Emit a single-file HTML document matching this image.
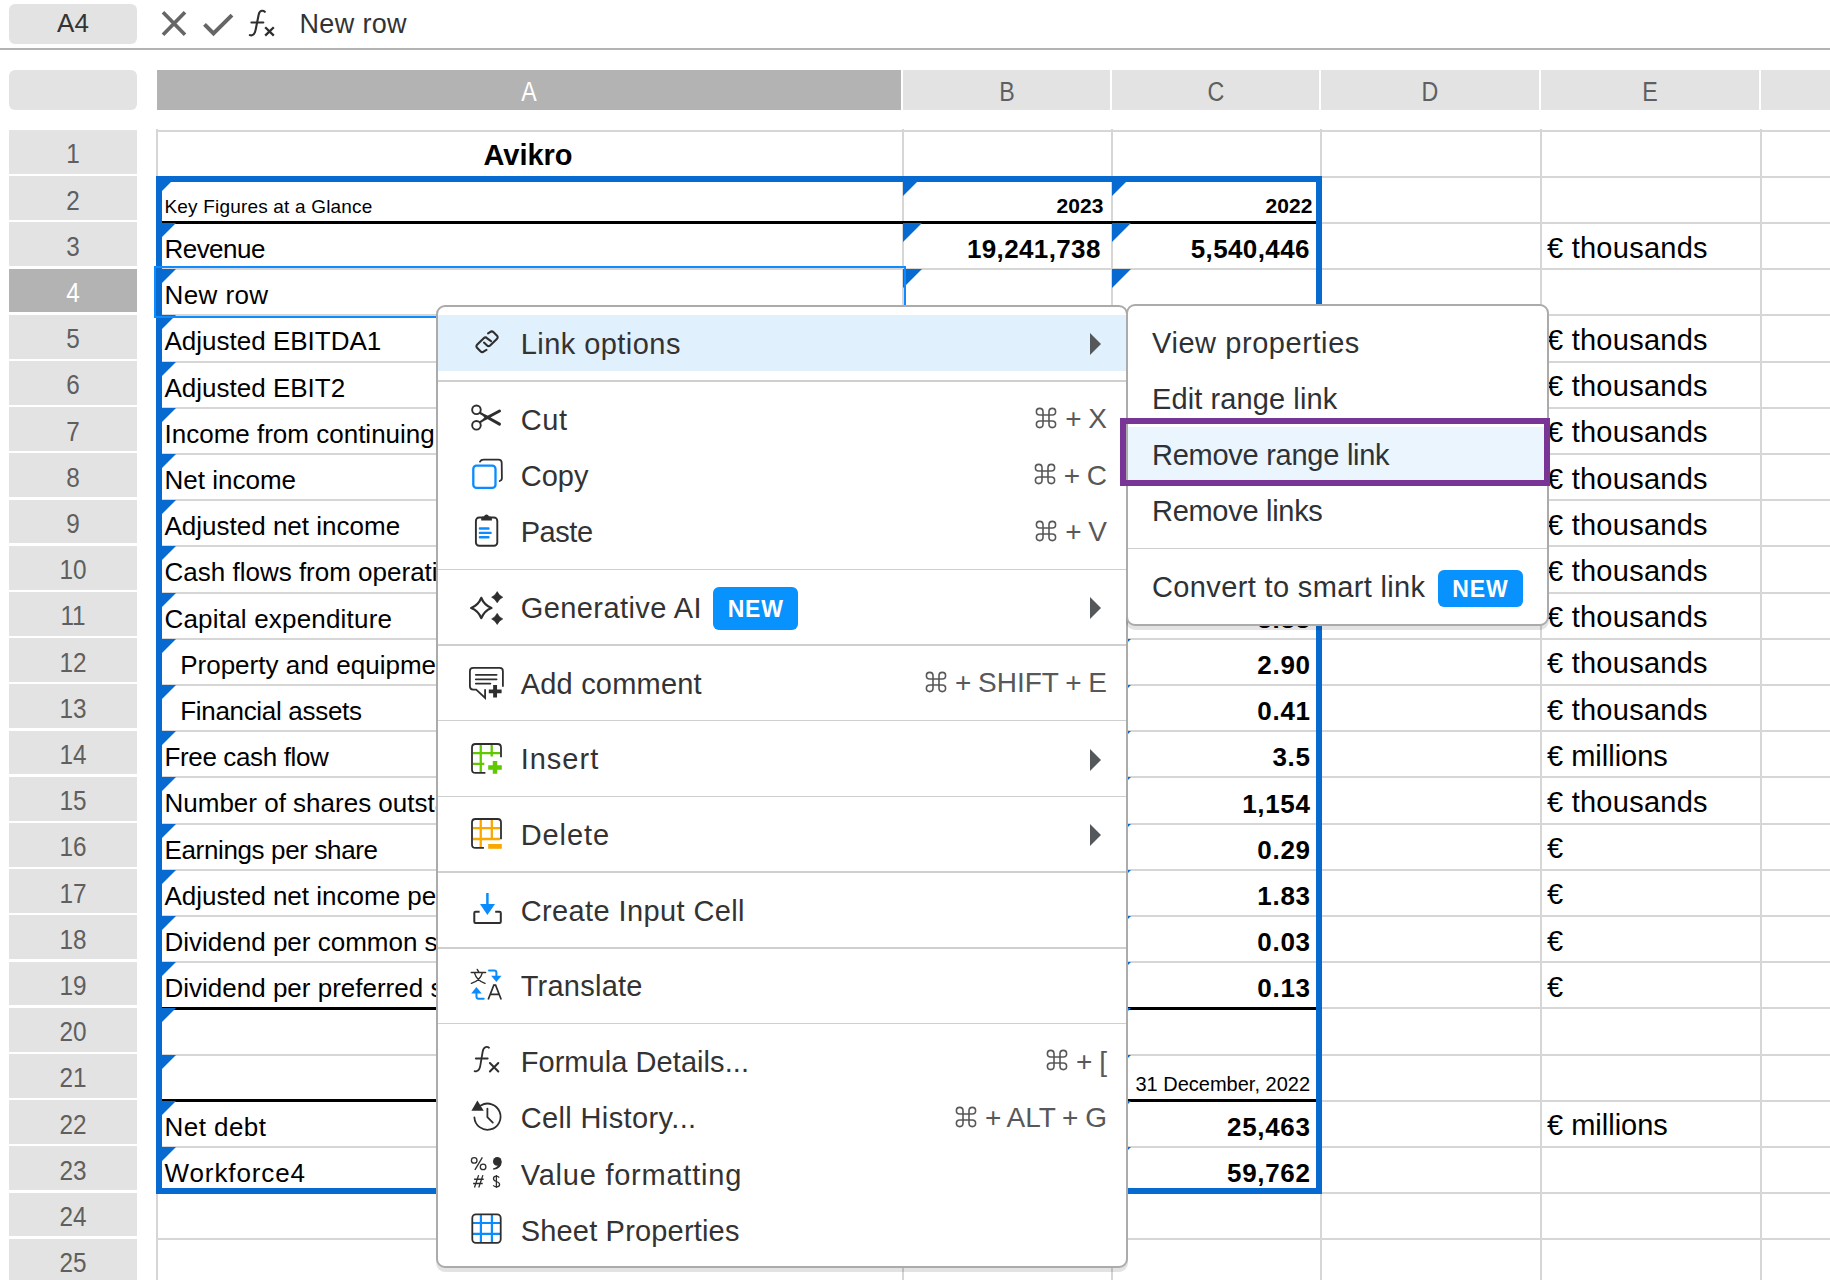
<!DOCTYPE html><html><head><meta charset="utf-8"><style>
html,body{margin:0;padding:0;}
body{width:1830px;height:1280px;overflow:hidden;position:relative;background:#fff;font-family:"Liberation Sans",sans-serif;color:#000;}
.t{position:absolute;line-height:1;white-space:nowrap;}
.b{position:absolute;box-sizing:border-box;}
svg{position:absolute;overflow:visible;}

</style></head><body>
<div class="b" style="left:9.00px;top:4.00px;width:128.00px;height:40.00px;background:#e3e3e3;border-radius:6px;"></div>
<div class="t" style="left:-227.00px;width:600px;top:9.99px;font-size:26px;text-align:center;color:#333;">A4</div>
<svg style="left:160px;top:10px" width="28" height="28" viewBox="0 0 28 28"><path d="M3,2.2 L25,24.8 M25,2.2 L3,24.8" stroke="#666" stroke-width="3.7" fill="none"/></svg>
<svg style="left:200px;top:10px" width="36" height="28" viewBox="0 0 36 28"><path d="M4.5,14.3 L13.5,23.5 L32,5.2" stroke="#666" stroke-width="4" fill="none"/></svg>
<svg style="left:244px;top:6px" width="40" height="36" viewBox="0 0 40 36"><path d="M20.8,5.8 Q19.6,4.6 17.8,4.8 Q15.4,5.2 14.7,8.5 L11.7,23.5 Q10.8,28.6 8,29.3 Q6.8,29.6 5.9,29.1" stroke="#2e2e2e" stroke-width="2.1" fill="none" stroke-linecap="round"/><path d="M7.4,16.45 L19.3,16.45" stroke="#2e2e2e" stroke-width="2.1" stroke-linecap="round"/><path d="M21.2,21.2 L29.8,29.6 M29.8,21.2 L21.2,29.6" stroke="#2e2e2e" stroke-width="2.3"/></svg>
<div class="t" style="left:299.50px;top:11.14px;font-size:27px;color:#333;letter-spacing:0.35px;">New row</div>
<div class="b" style="left:0.00px;top:48.00px;width:1830.00px;height:2.00px;background:#b3b3b3;"></div>
<div class="b" style="left:9.00px;top:70.00px;width:128.00px;height:40.00px;background:#e3e3e3;border-radius:6px;"></div>
<div class="b" style="left:157.00px;top:70.00px;width:744.00px;height:40.00px;background:#b3b3b3;"></div>
<div class="t" style="left:229.00px;width:600px;top:78.64px;font-size:27px;text-align:center;color:#fff;transform:scaleX(0.86);">A</div>
<div class="b" style="left:903.00px;top:70.00px;width:207.00px;height:40.00px;background:#e3e3e3;"></div>
<div class="t" style="left:706.50px;width:600px;top:78.64px;font-size:27px;text-align:center;color:#5f5f5f;transform:scaleX(0.86);">B</div>
<div class="b" style="left:1112.00px;top:70.00px;width:207.00px;height:40.00px;background:#e3e3e3;"></div>
<div class="t" style="left:915.50px;width:600px;top:78.64px;font-size:27px;text-align:center;color:#5f5f5f;transform:scaleX(0.86);">C</div>
<div class="b" style="left:1321.00px;top:70.00px;width:218.00px;height:40.00px;background:#e3e3e3;"></div>
<div class="t" style="left:1130.00px;width:600px;top:78.64px;font-size:27px;text-align:center;color:#5f5f5f;transform:scaleX(0.86);">D</div>
<div class="b" style="left:1541.00px;top:70.00px;width:218.00px;height:40.00px;background:#e3e3e3;"></div>
<div class="t" style="left:1350.00px;width:600px;top:78.64px;font-size:27px;text-align:center;color:#5f5f5f;transform:scaleX(0.86);">E</div>
<div class="b" style="left:1761.00px;top:70.00px;width:69.00px;height:40.00px;background:#e3e3e3;"></div>
<div class="b" style="left:9.00px;top:130.00px;width:128.00px;height:43.80px;background:#e3e3e3;"></div>
<div class="t" style="left:-227.00px;width:600px;top:141.34px;font-size:27px;text-align:center;color:#5f5f5f;transform:scaleX(0.9);">1</div>
<div class="b" style="left:9.00px;top:176.20px;width:128.00px;height:43.80px;background:#e3e3e3;"></div>
<div class="t" style="left:-227.00px;width:600px;top:187.54px;font-size:27px;text-align:center;color:#5f5f5f;transform:scaleX(0.9);">2</div>
<div class="b" style="left:9.00px;top:222.40px;width:128.00px;height:43.80px;background:#e3e3e3;"></div>
<div class="t" style="left:-227.00px;width:600px;top:233.74px;font-size:27px;text-align:center;color:#5f5f5f;transform:scaleX(0.9);">3</div>
<div class="b" style="left:9.00px;top:268.60px;width:128.00px;height:43.80px;background:#b3b3b3;"></div>
<div class="t" style="left:-227.00px;width:600px;top:279.94px;font-size:27px;text-align:center;color:#fff;transform:scaleX(0.9);">4</div>
<div class="b" style="left:9.00px;top:314.80px;width:128.00px;height:43.80px;background:#e3e3e3;"></div>
<div class="t" style="left:-227.00px;width:600px;top:326.14px;font-size:27px;text-align:center;color:#5f5f5f;transform:scaleX(0.9);">5</div>
<div class="b" style="left:9.00px;top:361.00px;width:128.00px;height:43.80px;background:#e3e3e3;"></div>
<div class="t" style="left:-227.00px;width:600px;top:372.34px;font-size:27px;text-align:center;color:#5f5f5f;transform:scaleX(0.9);">6</div>
<div class="b" style="left:9.00px;top:407.20px;width:128.00px;height:43.80px;background:#e3e3e3;"></div>
<div class="t" style="left:-227.00px;width:600px;top:418.54px;font-size:27px;text-align:center;color:#5f5f5f;transform:scaleX(0.9);">7</div>
<div class="b" style="left:9.00px;top:453.40px;width:128.00px;height:43.80px;background:#e3e3e3;"></div>
<div class="t" style="left:-227.00px;width:600px;top:464.74px;font-size:27px;text-align:center;color:#5f5f5f;transform:scaleX(0.9);">8</div>
<div class="b" style="left:9.00px;top:499.60px;width:128.00px;height:43.80px;background:#e3e3e3;"></div>
<div class="t" style="left:-227.00px;width:600px;top:510.94px;font-size:27px;text-align:center;color:#5f5f5f;transform:scaleX(0.9);">9</div>
<div class="b" style="left:9.00px;top:545.80px;width:128.00px;height:43.80px;background:#e3e3e3;"></div>
<div class="t" style="left:-227.00px;width:600px;top:557.14px;font-size:27px;text-align:center;color:#5f5f5f;transform:scaleX(0.9);">10</div>
<div class="b" style="left:9.00px;top:592.00px;width:128.00px;height:43.80px;background:#e3e3e3;"></div>
<div class="t" style="left:-227.00px;width:600px;top:603.34px;font-size:27px;text-align:center;color:#5f5f5f;transform:scaleX(0.9);">11</div>
<div class="b" style="left:9.00px;top:638.20px;width:128.00px;height:43.80px;background:#e3e3e3;"></div>
<div class="t" style="left:-227.00px;width:600px;top:649.54px;font-size:27px;text-align:center;color:#5f5f5f;transform:scaleX(0.9);">12</div>
<div class="b" style="left:9.00px;top:684.40px;width:128.00px;height:43.80px;background:#e3e3e3;"></div>
<div class="t" style="left:-227.00px;width:600px;top:695.74px;font-size:27px;text-align:center;color:#5f5f5f;transform:scaleX(0.9);">13</div>
<div class="b" style="left:9.00px;top:730.60px;width:128.00px;height:43.80px;background:#e3e3e3;"></div>
<div class="t" style="left:-227.00px;width:600px;top:741.94px;font-size:27px;text-align:center;color:#5f5f5f;transform:scaleX(0.9);">14</div>
<div class="b" style="left:9.00px;top:776.80px;width:128.00px;height:43.80px;background:#e3e3e3;"></div>
<div class="t" style="left:-227.00px;width:600px;top:788.14px;font-size:27px;text-align:center;color:#5f5f5f;transform:scaleX(0.9);">15</div>
<div class="b" style="left:9.00px;top:823.00px;width:128.00px;height:43.80px;background:#e3e3e3;"></div>
<div class="t" style="left:-227.00px;width:600px;top:834.34px;font-size:27px;text-align:center;color:#5f5f5f;transform:scaleX(0.9);">16</div>
<div class="b" style="left:9.00px;top:869.20px;width:128.00px;height:43.80px;background:#e3e3e3;"></div>
<div class="t" style="left:-227.00px;width:600px;top:880.54px;font-size:27px;text-align:center;color:#5f5f5f;transform:scaleX(0.9);">17</div>
<div class="b" style="left:9.00px;top:915.40px;width:128.00px;height:43.80px;background:#e3e3e3;"></div>
<div class="t" style="left:-227.00px;width:600px;top:926.74px;font-size:27px;text-align:center;color:#5f5f5f;transform:scaleX(0.9);">18</div>
<div class="b" style="left:9.00px;top:961.60px;width:128.00px;height:43.80px;background:#e3e3e3;"></div>
<div class="t" style="left:-227.00px;width:600px;top:972.94px;font-size:27px;text-align:center;color:#5f5f5f;transform:scaleX(0.9);">19</div>
<div class="b" style="left:9.00px;top:1007.80px;width:128.00px;height:43.80px;background:#e3e3e3;"></div>
<div class="t" style="left:-227.00px;width:600px;top:1019.14px;font-size:27px;text-align:center;color:#5f5f5f;transform:scaleX(0.9);">20</div>
<div class="b" style="left:9.00px;top:1054.00px;width:128.00px;height:43.80px;background:#e3e3e3;"></div>
<div class="t" style="left:-227.00px;width:600px;top:1065.34px;font-size:27px;text-align:center;color:#5f5f5f;transform:scaleX(0.9);">21</div>
<div class="b" style="left:9.00px;top:1100.20px;width:128.00px;height:43.80px;background:#e3e3e3;"></div>
<div class="t" style="left:-227.00px;width:600px;top:1111.54px;font-size:27px;text-align:center;color:#5f5f5f;transform:scaleX(0.9);">22</div>
<div class="b" style="left:9.00px;top:1146.40px;width:128.00px;height:43.80px;background:#e3e3e3;"></div>
<div class="t" style="left:-227.00px;width:600px;top:1157.74px;font-size:27px;text-align:center;color:#5f5f5f;transform:scaleX(0.9);">23</div>
<div class="b" style="left:9.00px;top:1192.60px;width:128.00px;height:43.80px;background:#e3e3e3;"></div>
<div class="t" style="left:-227.00px;width:600px;top:1203.94px;font-size:27px;text-align:center;color:#5f5f5f;transform:scaleX(0.9);">24</div>
<div class="b" style="left:9.00px;top:1238.80px;width:128.00px;height:43.80px;background:#e3e3e3;"></div>
<div class="t" style="left:-227.00px;width:600px;top:1250.14px;font-size:27px;text-align:center;color:#5f5f5f;transform:scaleX(0.9);">25</div>
<div class="b" style="left:9.00px;top:1285.00px;width:128.00px;height:43.80px;background:#e3e3e3;"></div>
<div class="t" style="left:-227.00px;width:600px;top:1296.34px;font-size:27px;text-align:center;color:#5f5f5f;transform:scaleX(0.9);">26</div>
<div class="b" style="left:156.00px;top:129.50px;width:1674.00px;height:2.00px;background:#d6d6d6;"></div>
<div class="b" style="left:156.00px;top:175.70px;width:1674.00px;height:2.00px;background:#d6d6d6;"></div>
<div class="b" style="left:156.00px;top:221.90px;width:1674.00px;height:2.00px;background:#d6d6d6;"></div>
<div class="b" style="left:156.00px;top:268.10px;width:1674.00px;height:2.00px;background:#d6d6d6;"></div>
<div class="b" style="left:156.00px;top:314.30px;width:1674.00px;height:2.00px;background:#d6d6d6;"></div>
<div class="b" style="left:156.00px;top:360.50px;width:1674.00px;height:2.00px;background:#d6d6d6;"></div>
<div class="b" style="left:156.00px;top:406.70px;width:1674.00px;height:2.00px;background:#d6d6d6;"></div>
<div class="b" style="left:156.00px;top:452.90px;width:1674.00px;height:2.00px;background:#d6d6d6;"></div>
<div class="b" style="left:156.00px;top:499.10px;width:1674.00px;height:2.00px;background:#d6d6d6;"></div>
<div class="b" style="left:156.00px;top:545.30px;width:1674.00px;height:2.00px;background:#d6d6d6;"></div>
<div class="b" style="left:156.00px;top:591.50px;width:1674.00px;height:2.00px;background:#d6d6d6;"></div>
<div class="b" style="left:156.00px;top:637.70px;width:1674.00px;height:2.00px;background:#d6d6d6;"></div>
<div class="b" style="left:156.00px;top:683.90px;width:1674.00px;height:2.00px;background:#d6d6d6;"></div>
<div class="b" style="left:156.00px;top:730.10px;width:1674.00px;height:2.00px;background:#d6d6d6;"></div>
<div class="b" style="left:156.00px;top:776.30px;width:1674.00px;height:2.00px;background:#d6d6d6;"></div>
<div class="b" style="left:156.00px;top:822.50px;width:1674.00px;height:2.00px;background:#d6d6d6;"></div>
<div class="b" style="left:156.00px;top:868.70px;width:1674.00px;height:2.00px;background:#d6d6d6;"></div>
<div class="b" style="left:156.00px;top:914.90px;width:1674.00px;height:2.00px;background:#d6d6d6;"></div>
<div class="b" style="left:156.00px;top:961.10px;width:1674.00px;height:2.00px;background:#d6d6d6;"></div>
<div class="b" style="left:156.00px;top:1007.30px;width:1674.00px;height:2.00px;background:#d6d6d6;"></div>
<div class="b" style="left:156.00px;top:1053.50px;width:1674.00px;height:2.00px;background:#d6d6d6;"></div>
<div class="b" style="left:156.00px;top:1099.70px;width:1674.00px;height:2.00px;background:#d6d6d6;"></div>
<div class="b" style="left:156.00px;top:1145.90px;width:1674.00px;height:2.00px;background:#d6d6d6;"></div>
<div class="b" style="left:156.00px;top:1192.10px;width:1674.00px;height:2.00px;background:#d6d6d6;"></div>
<div class="b" style="left:156.00px;top:1238.30px;width:1674.00px;height:2.00px;background:#d6d6d6;"></div>
<div class="b" style="left:156.00px;top:1284.50px;width:1674.00px;height:2.00px;background:#d6d6d6;"></div>
<div class="b" style="left:156.00px;top:129.00px;width:2.00px;height:1151.00px;background:#d6d6d6;"></div>
<div class="b" style="left:902.00px;top:129.00px;width:2.00px;height:1151.00px;background:#d6d6d6;"></div>
<div class="b" style="left:1111.00px;top:129.00px;width:2.00px;height:1151.00px;background:#d6d6d6;"></div>
<div class="b" style="left:1320.00px;top:129.00px;width:2.00px;height:1151.00px;background:#d6d6d6;"></div>
<div class="b" style="left:1540.00px;top:129.00px;width:2.00px;height:1151.00px;background:#d6d6d6;"></div>
<div class="b" style="left:1760.00px;top:129.00px;width:2.00px;height:1151.00px;background:#d6d6d6;"></div>
<div class="b" style="left:162.00px;top:221.10px;width:1154.00px;height:3.00px;background:#000;"></div>
<div class="b" style="left:162.00px;top:1006.50px;width:1154.00px;height:3.00px;background:#000;"></div>
<div class="b" style="left:162.00px;top:1098.90px;width:1154.00px;height:3.00px;background:#000;"></div>
<svg style="left:157.00px;top:176.80px" width="19" height="19" viewBox="0 0 19 19"><path d="M0,0 L19,0 L0,19 Z" fill="#066ad0"/></svg>
<svg style="left:157.00px;top:223.00px" width="19" height="19" viewBox="0 0 19 19"><path d="M0,0 L19,0 L0,19 Z" fill="#066ad0"/></svg>
<svg style="left:157.00px;top:269.20px" width="19" height="19" viewBox="0 0 19 19"><path d="M0,0 L19,0 L0,19 Z" fill="#066ad0"/></svg>
<svg style="left:157.00px;top:315.40px" width="19" height="19" viewBox="0 0 19 19"><path d="M0,0 L19,0 L0,19 Z" fill="#066ad0"/></svg>
<svg style="left:157.00px;top:361.60px" width="19" height="19" viewBox="0 0 19 19"><path d="M0,0 L19,0 L0,19 Z" fill="#066ad0"/></svg>
<svg style="left:157.00px;top:407.80px" width="19" height="19" viewBox="0 0 19 19"><path d="M0,0 L19,0 L0,19 Z" fill="#066ad0"/></svg>
<svg style="left:157.00px;top:454.00px" width="19" height="19" viewBox="0 0 19 19"><path d="M0,0 L19,0 L0,19 Z" fill="#066ad0"/></svg>
<svg style="left:157.00px;top:500.20px" width="19" height="19" viewBox="0 0 19 19"><path d="M0,0 L19,0 L0,19 Z" fill="#066ad0"/></svg>
<svg style="left:157.00px;top:546.40px" width="19" height="19" viewBox="0 0 19 19"><path d="M0,0 L19,0 L0,19 Z" fill="#066ad0"/></svg>
<svg style="left:157.00px;top:592.60px" width="19" height="19" viewBox="0 0 19 19"><path d="M0,0 L19,0 L0,19 Z" fill="#066ad0"/></svg>
<svg style="left:157.00px;top:638.80px" width="19" height="19" viewBox="0 0 19 19"><path d="M0,0 L19,0 L0,19 Z" fill="#066ad0"/></svg>
<svg style="left:157.00px;top:685.00px" width="19" height="19" viewBox="0 0 19 19"><path d="M0,0 L19,0 L0,19 Z" fill="#066ad0"/></svg>
<svg style="left:157.00px;top:731.20px" width="19" height="19" viewBox="0 0 19 19"><path d="M0,0 L19,0 L0,19 Z" fill="#066ad0"/></svg>
<svg style="left:157.00px;top:777.40px" width="19" height="19" viewBox="0 0 19 19"><path d="M0,0 L19,0 L0,19 Z" fill="#066ad0"/></svg>
<svg style="left:157.00px;top:823.60px" width="19" height="19" viewBox="0 0 19 19"><path d="M0,0 L19,0 L0,19 Z" fill="#066ad0"/></svg>
<svg style="left:157.00px;top:869.80px" width="19" height="19" viewBox="0 0 19 19"><path d="M0,0 L19,0 L0,19 Z" fill="#066ad0"/></svg>
<svg style="left:157.00px;top:916.00px" width="19" height="19" viewBox="0 0 19 19"><path d="M0,0 L19,0 L0,19 Z" fill="#066ad0"/></svg>
<svg style="left:157.00px;top:962.20px" width="19" height="19" viewBox="0 0 19 19"><path d="M0,0 L19,0 L0,19 Z" fill="#066ad0"/></svg>
<svg style="left:157.00px;top:1008.40px" width="19" height="19" viewBox="0 0 19 19"><path d="M0,0 L19,0 L0,19 Z" fill="#066ad0"/></svg>
<svg style="left:157.00px;top:1054.60px" width="19" height="19" viewBox="0 0 19 19"><path d="M0,0 L19,0 L0,19 Z" fill="#066ad0"/></svg>
<svg style="left:157.00px;top:1100.80px" width="19" height="19" viewBox="0 0 19 19"><path d="M0,0 L19,0 L0,19 Z" fill="#066ad0"/></svg>
<svg style="left:157.00px;top:1147.00px" width="19" height="19" viewBox="0 0 19 19"><path d="M0,0 L19,0 L0,19 Z" fill="#066ad0"/></svg>
<svg style="left:903.00px;top:176.80px" width="19" height="19" viewBox="0 0 19 19"><path d="M0,0 L19,0 L0,19 Z" fill="#066ad0"/></svg>
<svg style="left:1112.00px;top:176.80px" width="19" height="19" viewBox="0 0 19 19"><path d="M0,0 L19,0 L0,19 Z" fill="#066ad0"/></svg>
<svg style="left:903.00px;top:223.00px" width="19" height="19" viewBox="0 0 19 19"><path d="M0,0 L19,0 L0,19 Z" fill="#066ad0"/></svg>
<svg style="left:1112.00px;top:223.00px" width="19" height="19" viewBox="0 0 19 19"><path d="M0,0 L19,0 L0,19 Z" fill="#066ad0"/></svg>
<svg style="left:903.00px;top:269.20px" width="19" height="19" viewBox="0 0 19 19"><path d="M0,0 L19,0 L0,19 Z" fill="#066ad0"/></svg>
<svg style="left:1112.00px;top:269.20px" width="19" height="19" viewBox="0 0 19 19"><path d="M0,0 L19,0 L0,19 Z" fill="#066ad0"/></svg>
<svg style="left:1112.00px;top:315.40px" width="19" height="19" viewBox="0 0 19 19"><path d="M0,0 L19,0 L0,19 Z" fill="#066ad0"/></svg>
<svg style="left:1112.00px;top:361.60px" width="19" height="19" viewBox="0 0 19 19"><path d="M0,0 L19,0 L0,19 Z" fill="#066ad0"/></svg>
<svg style="left:1112.00px;top:407.80px" width="19" height="19" viewBox="0 0 19 19"><path d="M0,0 L19,0 L0,19 Z" fill="#066ad0"/></svg>
<svg style="left:1112.00px;top:454.00px" width="19" height="19" viewBox="0 0 19 19"><path d="M0,0 L19,0 L0,19 Z" fill="#066ad0"/></svg>
<svg style="left:1112.00px;top:500.20px" width="19" height="19" viewBox="0 0 19 19"><path d="M0,0 L19,0 L0,19 Z" fill="#066ad0"/></svg>
<svg style="left:1112.00px;top:546.40px" width="19" height="19" viewBox="0 0 19 19"><path d="M0,0 L19,0 L0,19 Z" fill="#066ad0"/></svg>
<svg style="left:1112.00px;top:592.60px" width="19" height="19" viewBox="0 0 19 19"><path d="M0,0 L19,0 L0,19 Z" fill="#066ad0"/></svg>
<svg style="left:1112.00px;top:638.80px" width="19" height="19" viewBox="0 0 19 19"><path d="M0,0 L19,0 L0,19 Z" fill="#066ad0"/></svg>
<svg style="left:1112.00px;top:685.00px" width="19" height="19" viewBox="0 0 19 19"><path d="M0,0 L19,0 L0,19 Z" fill="#066ad0"/></svg>
<svg style="left:1112.00px;top:731.20px" width="19" height="19" viewBox="0 0 19 19"><path d="M0,0 L19,0 L0,19 Z" fill="#066ad0"/></svg>
<svg style="left:1112.00px;top:777.40px" width="19" height="19" viewBox="0 0 19 19"><path d="M0,0 L19,0 L0,19 Z" fill="#066ad0"/></svg>
<svg style="left:1112.00px;top:823.60px" width="19" height="19" viewBox="0 0 19 19"><path d="M0,0 L19,0 L0,19 Z" fill="#066ad0"/></svg>
<svg style="left:1112.00px;top:869.80px" width="19" height="19" viewBox="0 0 19 19"><path d="M0,0 L19,0 L0,19 Z" fill="#066ad0"/></svg>
<svg style="left:1112.00px;top:916.00px" width="19" height="19" viewBox="0 0 19 19"><path d="M0,0 L19,0 L0,19 Z" fill="#066ad0"/></svg>
<svg style="left:1112.00px;top:962.20px" width="19" height="19" viewBox="0 0 19 19"><path d="M0,0 L19,0 L0,19 Z" fill="#066ad0"/></svg>
<svg style="left:1112.00px;top:1008.40px" width="19" height="19" viewBox="0 0 19 19"><path d="M0,0 L19,0 L0,19 Z" fill="#066ad0"/></svg>
<svg style="left:1112.00px;top:1054.60px" width="19" height="19" viewBox="0 0 19 19"><path d="M0,0 L19,0 L0,19 Z" fill="#066ad0"/></svg>
<svg style="left:1112.00px;top:1100.80px" width="19" height="19" viewBox="0 0 19 19"><path d="M0,0 L19,0 L0,19 Z" fill="#066ad0"/></svg>
<svg style="left:1112.00px;top:1147.00px" width="19" height="19" viewBox="0 0 19 19"><path d="M0,0 L19,0 L0,19 Z" fill="#066ad0"/></svg>
<div class="t" style="left:228.00px;width:600px;top:140.65px;font-size:29px;text-align:center;font-weight:bold;">Avikro</div>
<div class="t" style="left:164.50px;top:196.72px;font-size:19px;letter-spacing:0.18px;">Key Figures at a Glance</div>
<div class="t" style="right:726.70px;top:195.22px;font-size:21px;text-align:right;font-weight:bold;">2023</div>
<div class="t" style="right:517.70px;top:195.22px;font-size:21px;text-align:right;font-weight:bold;">2022</div>
<div class="t" style="left:164.50px;top:235.99px;font-size:26px;letter-spacing:-0.54px;">Revenue</div>
<div class="t" style="left:164.50px;top:282.19px;font-size:26px;letter-spacing:0.42px;">New row</div>
<div class="t" style="left:164.50px;top:328.39px;font-size:26px;letter-spacing:0px;">Adjusted EBITDA1</div>
<div class="t" style="left:164.50px;top:374.59px;font-size:26px;letter-spacing:0px;">Adjusted EBIT2</div>
<div class="t" style="left:164.50px;top:420.79px;font-size:26px;letter-spacing:0px;">Income from continuing operations</div>
<div class="t" style="left:164.50px;top:466.99px;font-size:26px;letter-spacing:0px;">Net income</div>
<div class="t" style="left:164.50px;top:513.19px;font-size:26px;letter-spacing:0px;">Adjusted net income</div>
<div class="t" style="left:164.50px;top:559.39px;font-size:26px;letter-spacing:0px;">Cash flows from operating activities</div>
<div class="t" style="left:164.50px;top:605.59px;font-size:26px;letter-spacing:0.19px;">Capital expenditure</div>
<div class="t" style="left:180.20px;top:651.79px;font-size:26px;letter-spacing:0px;">Property and equipment</div>
<div class="t" style="left:180.20px;top:697.99px;font-size:26px;letter-spacing:-0.31px;">Financial assets</div>
<div class="t" style="left:164.50px;top:744.19px;font-size:26px;letter-spacing:-0.37px;">Free cash flow</div>
<div class="t" style="left:164.50px;top:790.39px;font-size:26px;letter-spacing:0px;">Number of shares outstanding</div>
<div class="t" style="left:164.50px;top:836.59px;font-size:26px;letter-spacing:-0.36px;">Earnings per share</div>
<div class="t" style="left:164.50px;top:882.79px;font-size:26px;letter-spacing:0px;">Adjusted net income per share</div>
<div class="t" style="left:164.50px;top:928.99px;font-size:26px;letter-spacing:0px;">Dividend per common share</div>
<div class="t" style="left:164.50px;top:975.19px;font-size:26px;letter-spacing:0px;">Dividend per preferred share</div>
<div class="t" style="left:164.50px;top:1113.79px;font-size:26px;letter-spacing:0.46px;">Net debt</div>
<div class="t" style="left:164.50px;top:1159.99px;font-size:26px;letter-spacing:0.9px;">Workforce4</div>
<div class="t" style="right:729.20px;top:235.99px;font-size:26px;text-align:right;font-weight:bold;letter-spacing:0.38px;">19,241,738</div>
<div class="t" style="right:520.20px;top:235.99px;font-size:26px;text-align:right;font-weight:bold;letter-spacing:0.38px;">5,540,446</div>
<div class="t" style="right:519.30px;top:605.89px;font-size:26px;text-align:right;font-weight:bold;letter-spacing:0.7px;">3.33</div>
<div class="t" style="right:519.30px;top:652.09px;font-size:26px;text-align:right;font-weight:bold;letter-spacing:0.7px;">2.90</div>
<div class="t" style="right:519.30px;top:698.29px;font-size:26px;text-align:right;font-weight:bold;letter-spacing:0.7px;">0.41</div>
<div class="t" style="right:519.30px;top:744.49px;font-size:26px;text-align:right;font-weight:bold;letter-spacing:0.7px;">3.5</div>
<div class="t" style="right:519.30px;top:790.69px;font-size:26px;text-align:right;font-weight:bold;letter-spacing:0.7px;">1,154</div>
<div class="t" style="right:519.30px;top:836.89px;font-size:26px;text-align:right;font-weight:bold;letter-spacing:0.7px;">0.29</div>
<div class="t" style="right:519.30px;top:883.09px;font-size:26px;text-align:right;font-weight:bold;letter-spacing:0.7px;">1.83</div>
<div class="t" style="right:519.30px;top:929.29px;font-size:26px;text-align:right;font-weight:bold;letter-spacing:0.7px;">0.03</div>
<div class="t" style="right:519.30px;top:975.49px;font-size:26px;text-align:right;font-weight:bold;letter-spacing:0.7px;">0.13</div>
<div class="t" style="right:519.30px;top:1114.09px;font-size:26px;text-align:right;font-weight:bold;letter-spacing:0.7px;">25,463</div>
<div class="t" style="right:519.30px;top:1160.29px;font-size:26px;text-align:right;font-weight:bold;letter-spacing:0.7px;">59,762</div>
<div class="t" style="right:520.00px;top:1074.07px;font-size:20px;text-align:right;">31 December, 2022</div>
<div class="t" style="left:1547.00px;top:233.65px;font-size:29px;letter-spacing:0.25px;">€ thousands</div>
<div class="t" style="left:1547.00px;top:326.05px;font-size:29px;letter-spacing:0.25px;">€ thousands</div>
<div class="t" style="left:1547.00px;top:372.25px;font-size:29px;letter-spacing:0.25px;">€ thousands</div>
<div class="t" style="left:1547.00px;top:418.45px;font-size:29px;letter-spacing:0.25px;">€ thousands</div>
<div class="t" style="left:1547.00px;top:464.65px;font-size:29px;letter-spacing:0.25px;">€ thousands</div>
<div class="t" style="left:1547.00px;top:510.85px;font-size:29px;letter-spacing:0.25px;">€ thousands</div>
<div class="t" style="left:1547.00px;top:557.05px;font-size:29px;letter-spacing:0.25px;">€ thousands</div>
<div class="t" style="left:1547.00px;top:603.25px;font-size:29px;letter-spacing:0.25px;">€ thousands</div>
<div class="t" style="left:1547.00px;top:649.45px;font-size:29px;letter-spacing:0.25px;">€ thousands</div>
<div class="t" style="left:1547.00px;top:695.65px;font-size:29px;letter-spacing:0.25px;">€ thousands</div>
<div class="t" style="left:1547.00px;top:741.85px;font-size:29px;">€ millions</div>
<div class="t" style="left:1547.00px;top:788.05px;font-size:29px;letter-spacing:0.25px;">€ thousands</div>
<div class="t" style="left:1547.00px;top:834.25px;font-size:29px;">€</div>
<div class="t" style="left:1547.00px;top:880.45px;font-size:29px;">€</div>
<div class="t" style="left:1547.00px;top:926.65px;font-size:29px;">€</div>
<div class="t" style="left:1547.00px;top:972.85px;font-size:29px;">€</div>
<div class="t" style="left:1547.00px;top:1111.45px;font-size:29px;">€ millions</div>
<div class="b" style="left:156.00px;top:175.50px;width:1166.00px;height:1018.30px;border:6px solid #066ad0;"></div>
<div class="b" style="left:154.00px;top:265.50px;width:752.00px;height:52.50px;border:2px solid #0e8cff;"></div>
<div class="b" style="left:436px;top:305px;width:692px;height:963px;background:#fff;border:2px solid #ababab;border-radius:9px;box-shadow:0 4px 0 rgba(0,0,0,0.11);"></div>
<div class="b" style="left:438.00px;top:315.00px;width:688.00px;height:56.30px;background:#e1f0fd;"></div>
<svg style="left:465px;top:320px" width="50" height="50" viewBox="0 0 50 50"><path d="M23.05,13.3 L25,12.25 Q26.8,10.5 28.58,12.25 L31.8,15.45 Q33.6,17.2 31.8,18.95 L25.4,25.25 Q23.6,27 21.8,25.25 L18.95,22.6" stroke="#2e2e2e" stroke-width="2.1" fill="none" stroke-linecap="round"/><path d="M26,21.1 L22.2,18.4 Q20.5,16.6 18.7,18.3 L12.3,24.5 Q10.5,26.2 12.26,28 L15.44,31.2 Q17.2,33 18.99,31.25 L21.5,29.9" stroke="#2e2e2e" stroke-width="2.1" fill="none" stroke-linecap="round"/></svg>
<div class="t" style="left:520.70px;top:329.80px;font-size:29px;color:#333;letter-spacing:0.45px;">Link options</div>
<svg style="left:1088px;top:332.15px" width="16" height="24" viewBox="0 0 16 24"><path d="M2,1 L13,12 L2,23 Z" fill="#54585b"/></svg>
<div class="b" style="left:438.00px;top:380.20px;width:688.00px;height:1.60px;background:#cfcfcf;"></div>
<svg style="left:462px;top:395px" width="50" height="50" viewBox="0 0 50 50"><circle cx="14.45" cy="14.8" r="4.3" stroke="#2e2e2e" stroke-width="1.9" fill="none"/><circle cx="14.45" cy="30.3" r="4.3" stroke="#2e2e2e" stroke-width="1.9" fill="none"/><path d="M17.8,17.8 L25.4,22.3 M17.8,27.4 L25.4,22.3" stroke="#2e2e2e" stroke-width="2.2"/><path d="M23,21 L37.5,29.1 M23,23.8 L37.5,16" stroke="#2e2e2e" stroke-width="3" stroke-linecap="round"/></svg>
<div class="t" style="left:520.70px;top:405.50px;font-size:29px;color:#333;letter-spacing:0.6px;">Cut</div>
<div class="t" style="right:723.00px;top:405.45px;font-size:28px;text-align:right;color:#585858;word-spacing:-1px;"><svg style="position:static;display:inline-block;vertical-align:-1.5px;margin-right:0px" width="24" height="24" viewBox="0 0 24 24"><path d="M9,18.3 L9,5.7 A3.3,3.3 0 1 0 5.7,9 L18.3,9 A3.3,3.3 0 1 0 15,5.7 L15,18.3 A3.3,3.3 0 1 0 18.3,15 L5.7,15 A3.3,3.3 0 1 0 9,18.3 Z" stroke="#585858" stroke-width="1.6" fill="none"/></svg> + X</div>
<svg style="left:462px;top:450px" width="50" height="50" viewBox="0 0 50 50"><path d="M18,11.6 Q19,9.6 21.5,9.6 L36.5,9.6 Q39.6,9.6 39.7,12.7 L39.9,28 Q39.9,30.4 37.6,31" stroke="#2e2e2e" stroke-width="1.8" fill="none" stroke-linecap="round"/><rect x="11.3" y="15.7" width="22.2" height="22.2" rx="3.2" stroke="#0a8cff" stroke-width="2.3" fill="none"/></svg>
<div class="t" style="left:520.70px;top:461.80px;font-size:29px;color:#333;letter-spacing:0px;">Copy</div>
<div class="t" style="right:723.00px;top:461.75px;font-size:28px;text-align:right;color:#585858;word-spacing:-1px;"><svg style="position:static;display:inline-block;vertical-align:-1.5px;margin-right:0px" width="24" height="24" viewBox="0 0 24 24"><path d="M9,18.3 L9,5.7 A3.3,3.3 0 1 0 5.7,9 L18.3,9 A3.3,3.3 0 1 0 15,5.7 L15,18.3 A3.3,3.3 0 1 0 18.3,15 L5.7,15 A3.3,3.3 0 1 0 9,18.3 Z" stroke="#585858" stroke-width="1.6" fill="none"/></svg> + C</div>
<svg style="left:462px;top:506px" width="50" height="50" viewBox="0 0 50 50"><rect x="13.9" y="11.5" width="21.4" height="28.3" rx="3.4" stroke="#2e2e2e" stroke-width="1.9" fill="none"/><path d="M19.2,14.6 L19.2,12.6 Q19.2,10.6 21.2,10.6 L22,10.6 Q22.6,8.4 24.5,8.4 Q26.4,8.4 27,10.6 L27.9,10.6 Q29.9,10.6 29.9,12.6 L29.9,14.6 Z" fill="#2e2e2e"/><path d="M17.9,22.5 L26.5,22.5 M17.9,26.9 L28.6,26.9 M17.9,31.25 L26.5,31.25" stroke="#0a8cff" stroke-width="2.4" stroke-linecap="round"/></svg>
<div class="t" style="left:520.70px;top:518.10px;font-size:29px;color:#333;letter-spacing:-0.45px;">Paste</div>
<div class="t" style="right:723.00px;top:518.05px;font-size:28px;text-align:right;color:#585858;word-spacing:-1px;"><svg style="position:static;display:inline-block;vertical-align:-1.5px;margin-right:0px" width="24" height="24" viewBox="0 0 24 24"><path d="M9,18.3 L9,5.7 A3.3,3.3 0 1 0 5.7,9 L18.3,9 A3.3,3.3 0 1 0 15,5.7 L15,18.3 A3.3,3.3 0 1 0 18.3,15 L5.7,15 A3.3,3.3 0 1 0 9,18.3 Z" stroke="#585858" stroke-width="1.6" fill="none"/></svg> + V</div>
<div class="b" style="left:438.00px;top:568.50px;width:688.00px;height:1.60px;background:#cfcfcf;"></div>
<svg style="left:462px;top:581px" width="50" height="50" viewBox="0 0 50 50"><path d="M19.3,16.9 Q22.2,24.1 29.4,27 Q22.2,29.9 19.3,37.1 Q16.400000000000002,29.9 9.200000000000001,27 Q16.400000000000002,24.1 19.3,16.9 Z" stroke="#2e2e2e" stroke-width="2.3" fill="none" stroke-linejoin="round"/><path d="M35.2,10.6 Q36.900000000000006,14.5 40.800000000000004,16.2 Q36.900000000000006,17.9 35.2,21.799999999999997 Q33.5,17.9 29.6,16.2 Q33.5,14.5 35.2,10.6 Z" fill="#2e2e2e" stroke="#2e2e2e" stroke-width="0.6" stroke-linejoin="round"/><path d="M35.2,32.3 Q36.900000000000006,36.199999999999996 40.800000000000004,37.9 Q36.900000000000006,39.6 35.2,43.5 Q33.5,39.6 29.6,37.9 Q33.5,36.199999999999996 35.2,32.3 Z" fill="#2e2e2e" stroke="#2e2e2e" stroke-width="0.6" stroke-linejoin="round"/></svg>
<div class="t" style="left:520.70px;top:593.80px;font-size:29px;color:#333;letter-spacing:0.43px;">Generative AI</div>
<div class="b" style="left:713.00px;top:586.65px;width:84.50px;height:43.20px;background:#0892fd;border-radius:6px;"></div>
<div class="t" style="left:455.70px;width:600px;top:597.68px;font-size:23px;text-align:center;font-weight:bold;color:#fff;letter-spacing:0.8px;">NEW</div>
<svg style="left:1088px;top:596.15px" width="16" height="24" viewBox="0 0 16 24"><path d="M2,1 L13,12 L2,23 Z" fill="#54585b"/></svg>
<div class="b" style="left:438.00px;top:644.20px;width:688.00px;height:1.60px;background:#cfcfcf;"></div>
<svg style="left:462px;top:658px" width="50" height="50" viewBox="0 0 50 50"><path d="M40.9,28.7 L40.9,13.2 Q40.9,9.9 37.6,9.9 L11.2,9.9 Q7.9,9.9 7.9,13.2 L7.9,28.3 Q7.9,31.6 11.2,31.6 L14.2,31.6 L23.1,40 L23.1,31.2" stroke="#2e2e2e" stroke-width="1.8" fill="none"/><path d="M13.8,16.8 L34.6,16.8 M13.8,21.3 L34.6,21.3 M13.8,25.6 L28.4,25.6" stroke="#2e2e2e" stroke-width="1.8" stroke-linecap="round"/><path d="M26.8,33.4 L39.6,33.4 M33.1,27.1 L33.1,39.6" stroke="#2e2e2e" stroke-width="3.9"/></svg>
<div class="t" style="left:520.70px;top:669.50px;font-size:29px;color:#333;letter-spacing:0.2px;">Add comment</div>
<div class="t" style="right:723.00px;top:669.45px;font-size:28px;text-align:right;color:#585858;word-spacing:-1px;"><svg style="position:static;display:inline-block;vertical-align:-1.5px;margin-right:0px" width="24" height="24" viewBox="0 0 24 24"><path d="M9,18.3 L9,5.7 A3.3,3.3 0 1 0 5.7,9 L18.3,9 A3.3,3.3 0 1 0 15,5.7 L15,18.3 A3.3,3.3 0 1 0 18.3,15 L5.7,15 A3.3,3.3 0 1 0 9,18.3 Z" stroke="#585858" stroke-width="1.6" fill="none"/></svg> + SHIFT + E</div>
<div class="b" style="left:438.00px;top:719.90px;width:688.00px;height:1.60px;background:#cfcfcf;"></div>
<svg style="left:462px;top:734px" width="50" height="50" viewBox="0 0 50 50"><path d="M18.75,11 L18.75,38 M29.7,11 L29.7,22.5 M11,19.1 L38,19.1 M11,29.9 L22.3,29.9" stroke="#5fc800" stroke-width="2.3"/><path d="M23.4,38.9 L13.5,38.9 Q10,38.9 10,35.4 L10,13.5 Q10,10 13.5,10 L35.5,10 Q39,10 39,13.5 L39,23.3" stroke="#2e2e2e" stroke-width="1.8" fill="none"/><path d="M26.2,33.4 L39.8,33.4 M33,27 L33,39.8" stroke="#5fc800" stroke-width="4.5"/></svg>
<div class="t" style="left:520.70px;top:745.20px;font-size:29px;color:#333;letter-spacing:1.0px;">Insert</div>
<svg style="left:1088px;top:747.55px" width="16" height="24" viewBox="0 0 16 24"><path d="M2,1 L13,12 L2,23 Z" fill="#54585b"/></svg>
<div class="b" style="left:438.00px;top:795.60px;width:688.00px;height:1.60px;background:#cfcfcf;"></div>
<svg style="left:462px;top:809px" width="50" height="50" viewBox="0 0 50 50"><path d="M18.75,11 L18.75,38 M29.8,11 L29.8,30 M11,19.1 L38,19.1 M11,30 L38,30" stroke="#f9a800" stroke-width="2.3"/><path d="M21.9,38.9 L13.5,38.9 Q10,38.9 10,35.4 L10,13.5 Q10,10 13.5,10 L35.5,10 Q39,10 39,13.5 L39,30.3" stroke="#2e2e2e" stroke-width="1.8" fill="none"/><rect x="26.2" y="35" width="13.6" height="4.8" fill="#f9a800"/></svg>
<div class="t" style="left:520.70px;top:820.90px;font-size:29px;color:#333;letter-spacing:0.9px;">Delete</div>
<svg style="left:1088px;top:823.25px" width="16" height="24" viewBox="0 0 16 24"><path d="M2,1 L13,12 L2,23 Z" fill="#54585b"/></svg>
<div class="b" style="left:438.00px;top:871.30px;width:688.00px;height:1.60px;background:#cfcfcf;"></div>
<svg style="left:462px;top:885px" width="50" height="50" viewBox="0 0 50 50"><path d="M25.4,8 L25.4,20" stroke="#0a8cff" stroke-width="2.5"/><path d="M18,19.1 L33,19.1 L25.4,30.1 Z" fill="#0a8cff"/><path d="M17.6,26.8 L13.5,26.8 Q12.3,26.8 12.3,28 L12.3,36.7 Q12.3,37.9 13.5,37.9 L37.5,37.9 Q38.8,37.9 38.8,36.7 L38.8,28 Q38.8,26.8 37.5,26.8 L33.2,26.8" stroke="#2e2e2e" stroke-width="2" fill="none"/></svg>
<div class="t" style="left:520.70px;top:896.60px;font-size:29px;color:#333;letter-spacing:0.39px;">Create Input Cell</div>
<div class="b" style="left:438.00px;top:947.00px;width:688.00px;height:1.60px;background:#cfcfcf;"></div>
<svg style="left:462px;top:960px" width="50" height="50" viewBox="0 0 50 50"><path d="M15.2,9.4 L16.6,11.7 M9.2,12.5 L23.6,12.5 M12.5,12.9 Q14.5,20.5 23,23.4 M20.3,12.9 Q18.3,20.5 9.4,23.4" stroke="#2e2e2e" stroke-width="1.4" fill="none" stroke-linecap="round"/><path d="M27,10.4 L32.2,10.4 Q34.4,10.4 34.4,12.6 L34.4,16.5" stroke="#0a8cff" stroke-width="2" fill="none" stroke-linecap="round"/><path d="M29.1,15.8 L39.5,15.8 L34.4,22.1 Z" fill="#0a8cff"/><path d="M14.45,33 L14.45,36.6 Q14.45,38.7 16.5,38.7 L21.7,38.7" stroke="#0a8cff" stroke-width="2" fill="none" stroke-linecap="round"/><path d="M9.2,33.6 L19.7,33.6 L14.45,27 Z" fill="#0a8cff"/><path d="M26.2,39.5 L31.8,25.2 L33.6,25.2 L39.2,39.5 M28.4,34.4 L37,34.4" stroke="#2e2e2e" stroke-width="1.7" fill="none"/></svg>
<div class="t" style="left:520.70px;top:972.30px;font-size:29px;color:#333;letter-spacing:0.25px;">Translate</div>
<div class="b" style="left:438.00px;top:1022.70px;width:688.00px;height:1.60px;background:#cfcfcf;"></div>
<svg style="left:462px;top:1036px" width="50" height="50" viewBox="0 0 50 50"><path d="M27,11.7 Q25.6,10.6 23.6,11.1 Q21.3,11.8 20.7,15.5 L18.3,29.6 Q17.6,34.2 14.6,35.2 Q13.6,35.5 12.6,35.1" stroke="#2e2e2e" stroke-width="1.8" fill="none" stroke-linecap="round"/><path d="M13.8,22.5 L25.7,22.5" stroke="#2e2e2e" stroke-width="1.8" stroke-linecap="round"/><path d="M27.9,27 L36.3,35.5 M36.3,27 L27.9,35.5" stroke="#2e2e2e" stroke-width="2" stroke-linecap="round"/></svg>
<div class="t" style="left:520.70px;top:1048.00px;font-size:29px;color:#333;letter-spacing:0.06px;">Formula Details...</div>
<div class="t" style="right:723.00px;top:1047.95px;font-size:28px;text-align:right;color:#585858;word-spacing:-1px;"><svg style="position:static;display:inline-block;vertical-align:-1.5px;margin-right:0px" width="24" height="24" viewBox="0 0 24 24"><path d="M9,18.3 L9,5.7 A3.3,3.3 0 1 0 5.7,9 L18.3,9 A3.3,3.3 0 1 0 15,5.7 L15,18.3 A3.3,3.3 0 1 0 18.3,15 L5.7,15 A3.3,3.3 0 1 0 9,18.3 Z" stroke="#585858" stroke-width="1.6" fill="none"/></svg> + [</div>
<svg style="left:462px;top:1092px" width="50" height="50" viewBox="0 0 50 50"><path d="M12.4,25.5 A13.1,13.1 0 1 0 18.8,13.4" stroke="#2e2e2e" stroke-width="1.8" fill="none" stroke-linecap="round"/><path d="M9.4,18.75 L21.7,18.75 L15.4,8.4 Z" fill="#2e2e2e"/><path d="M25.4,16.6 L25.4,25.2 L30.8,30.6" stroke="#2e2e2e" stroke-width="1.8" fill="none" stroke-linecap="round"/></svg>
<div class="t" style="left:520.70px;top:1104.30px;font-size:29px;color:#333;letter-spacing:0.37px;">Cell History...</div>
<div class="t" style="right:723.00px;top:1104.25px;font-size:28px;text-align:right;color:#585858;word-spacing:-1px;"><svg style="position:static;display:inline-block;vertical-align:-1.5px;margin-right:0px" width="24" height="24" viewBox="0 0 24 24"><path d="M9,18.3 L9,5.7 A3.3,3.3 0 1 0 5.7,9 L18.3,9 A3.3,3.3 0 1 0 15,5.7 L15,18.3 A3.3,3.3 0 1 0 18.3,15 L5.7,15 A3.3,3.3 0 1 0 9,18.3 Z" stroke="#585858" stroke-width="1.6" fill="none"/></svg> + ALT + G</div>
<svg style="left:462px;top:1148px" width="50" height="50" viewBox="0 0 50 50"><circle cx="12.2" cy="12.4" r="2.8" stroke="#2e2e2e" stroke-width="1.3" fill="none"/><circle cx="21.1" cy="18.9" r="2.8" stroke="#2e2e2e" stroke-width="1.3" fill="none"/><path d="M20.4,9.3 L12.9,21.8" stroke="#2e2e2e" stroke-width="1.3"/><circle cx="35.3" cy="13.4" r="4.3" fill="#2e2e2e"/><path d="M39.6,13.6 Q39.8,21 31.2,21.8 L31.2,20.2 Q35.6,19.6 36.6,16 Z" fill="#2e2e2e"/><path d="M16.6,27.1 L12.5,39.5 M20.9,27.1 L16.8,39.5 M12.1,31.25 L21.7,31.25 M11.1,35.5 L20.7,35.5" stroke="#2e2e2e" stroke-width="1.3"/><path d="M37.2,29.6 Q36.2,28.2 34.4,28.2 Q31.5,28.2 31.5,30.8 Q31.5,32.6 34.4,33.5 Q37.6,34.5 37.6,36.4 Q37.6,38.8 34.6,38.8 Q32.6,38.8 31.2,37.4 M34.4,27 L34.4,40" stroke="#2e2e2e" stroke-width="1.3" fill="none"/></svg>
<div class="t" style="left:520.70px;top:1160.60px;font-size:29px;color:#333;letter-spacing:0.77px;">Value formatting</div>
<svg style="left:462px;top:1205px" width="50" height="50" viewBox="0 0 50 50"><path d="M18.9,9.5 L18.9,37.6 M29.9,9.5 L29.9,37.6 M10.5,18 L38.5,18 M10.5,28.9 L38.5,28.9" stroke="#0a8cff" stroke-width="2.2"/><rect x="10.3" y="9.3" width="28.4" height="28.5" rx="3.6" stroke="#2e2e2e" stroke-width="1.8" fill="none"/></svg>
<div class="t" style="left:520.70px;top:1216.90px;font-size:29px;color:#333;letter-spacing:0.18px;">Sheet Properties</div>
<div class="b" style="left:1126px;top:304px;width:423px;height:322px;background:#fff;border:2px solid #ababab;border-radius:9px;box-shadow:0 4px 0 rgba(0,0,0,0.11);"></div>
<div class="t" style="left:1152.00px;top:329.25px;font-size:29px;color:#2d3236;letter-spacing:0.57px;">View properties</div>
<div class="t" style="left:1152.00px;top:385.25px;font-size:29px;color:#2d3236;letter-spacing:0.1px;">Edit range link</div>
<div class="b" style="left:1128.00px;top:427.00px;width:419.00px;height:56.00px;background:#eaf5fe;"></div>
<div class="t" style="left:1152.00px;top:441.25px;font-size:29px;color:#2d3236;letter-spacing:-0.26px;">Remove range link</div>
<div class="t" style="left:1152.00px;top:497.25px;font-size:29px;color:#2d3236;letter-spacing:-0.29px;">Remove links</div>
<div class="b" style="left:1128.00px;top:547.90px;width:419.00px;height:1.60px;background:#cfcfcf;"></div>
<div class="t" style="left:1152.00px;top:572.65px;font-size:29px;color:#2d3236;letter-spacing:0.36px;">Convert to smart link</div>
<div class="b" style="left:1437.50px;top:570.40px;width:85.00px;height:36.50px;background:#0892fd;border-radius:6px;"></div>
<div class="t" style="left:1180.40px;width:600px;top:577.93px;font-size:23px;text-align:center;font-weight:bold;color:#fff;letter-spacing:0.8px;">NEW</div>
<div class="b" style="left:1120.00px;top:418.00px;width:430.00px;height:68.00px;border:6px solid #783596;"></div>
</body></html>
